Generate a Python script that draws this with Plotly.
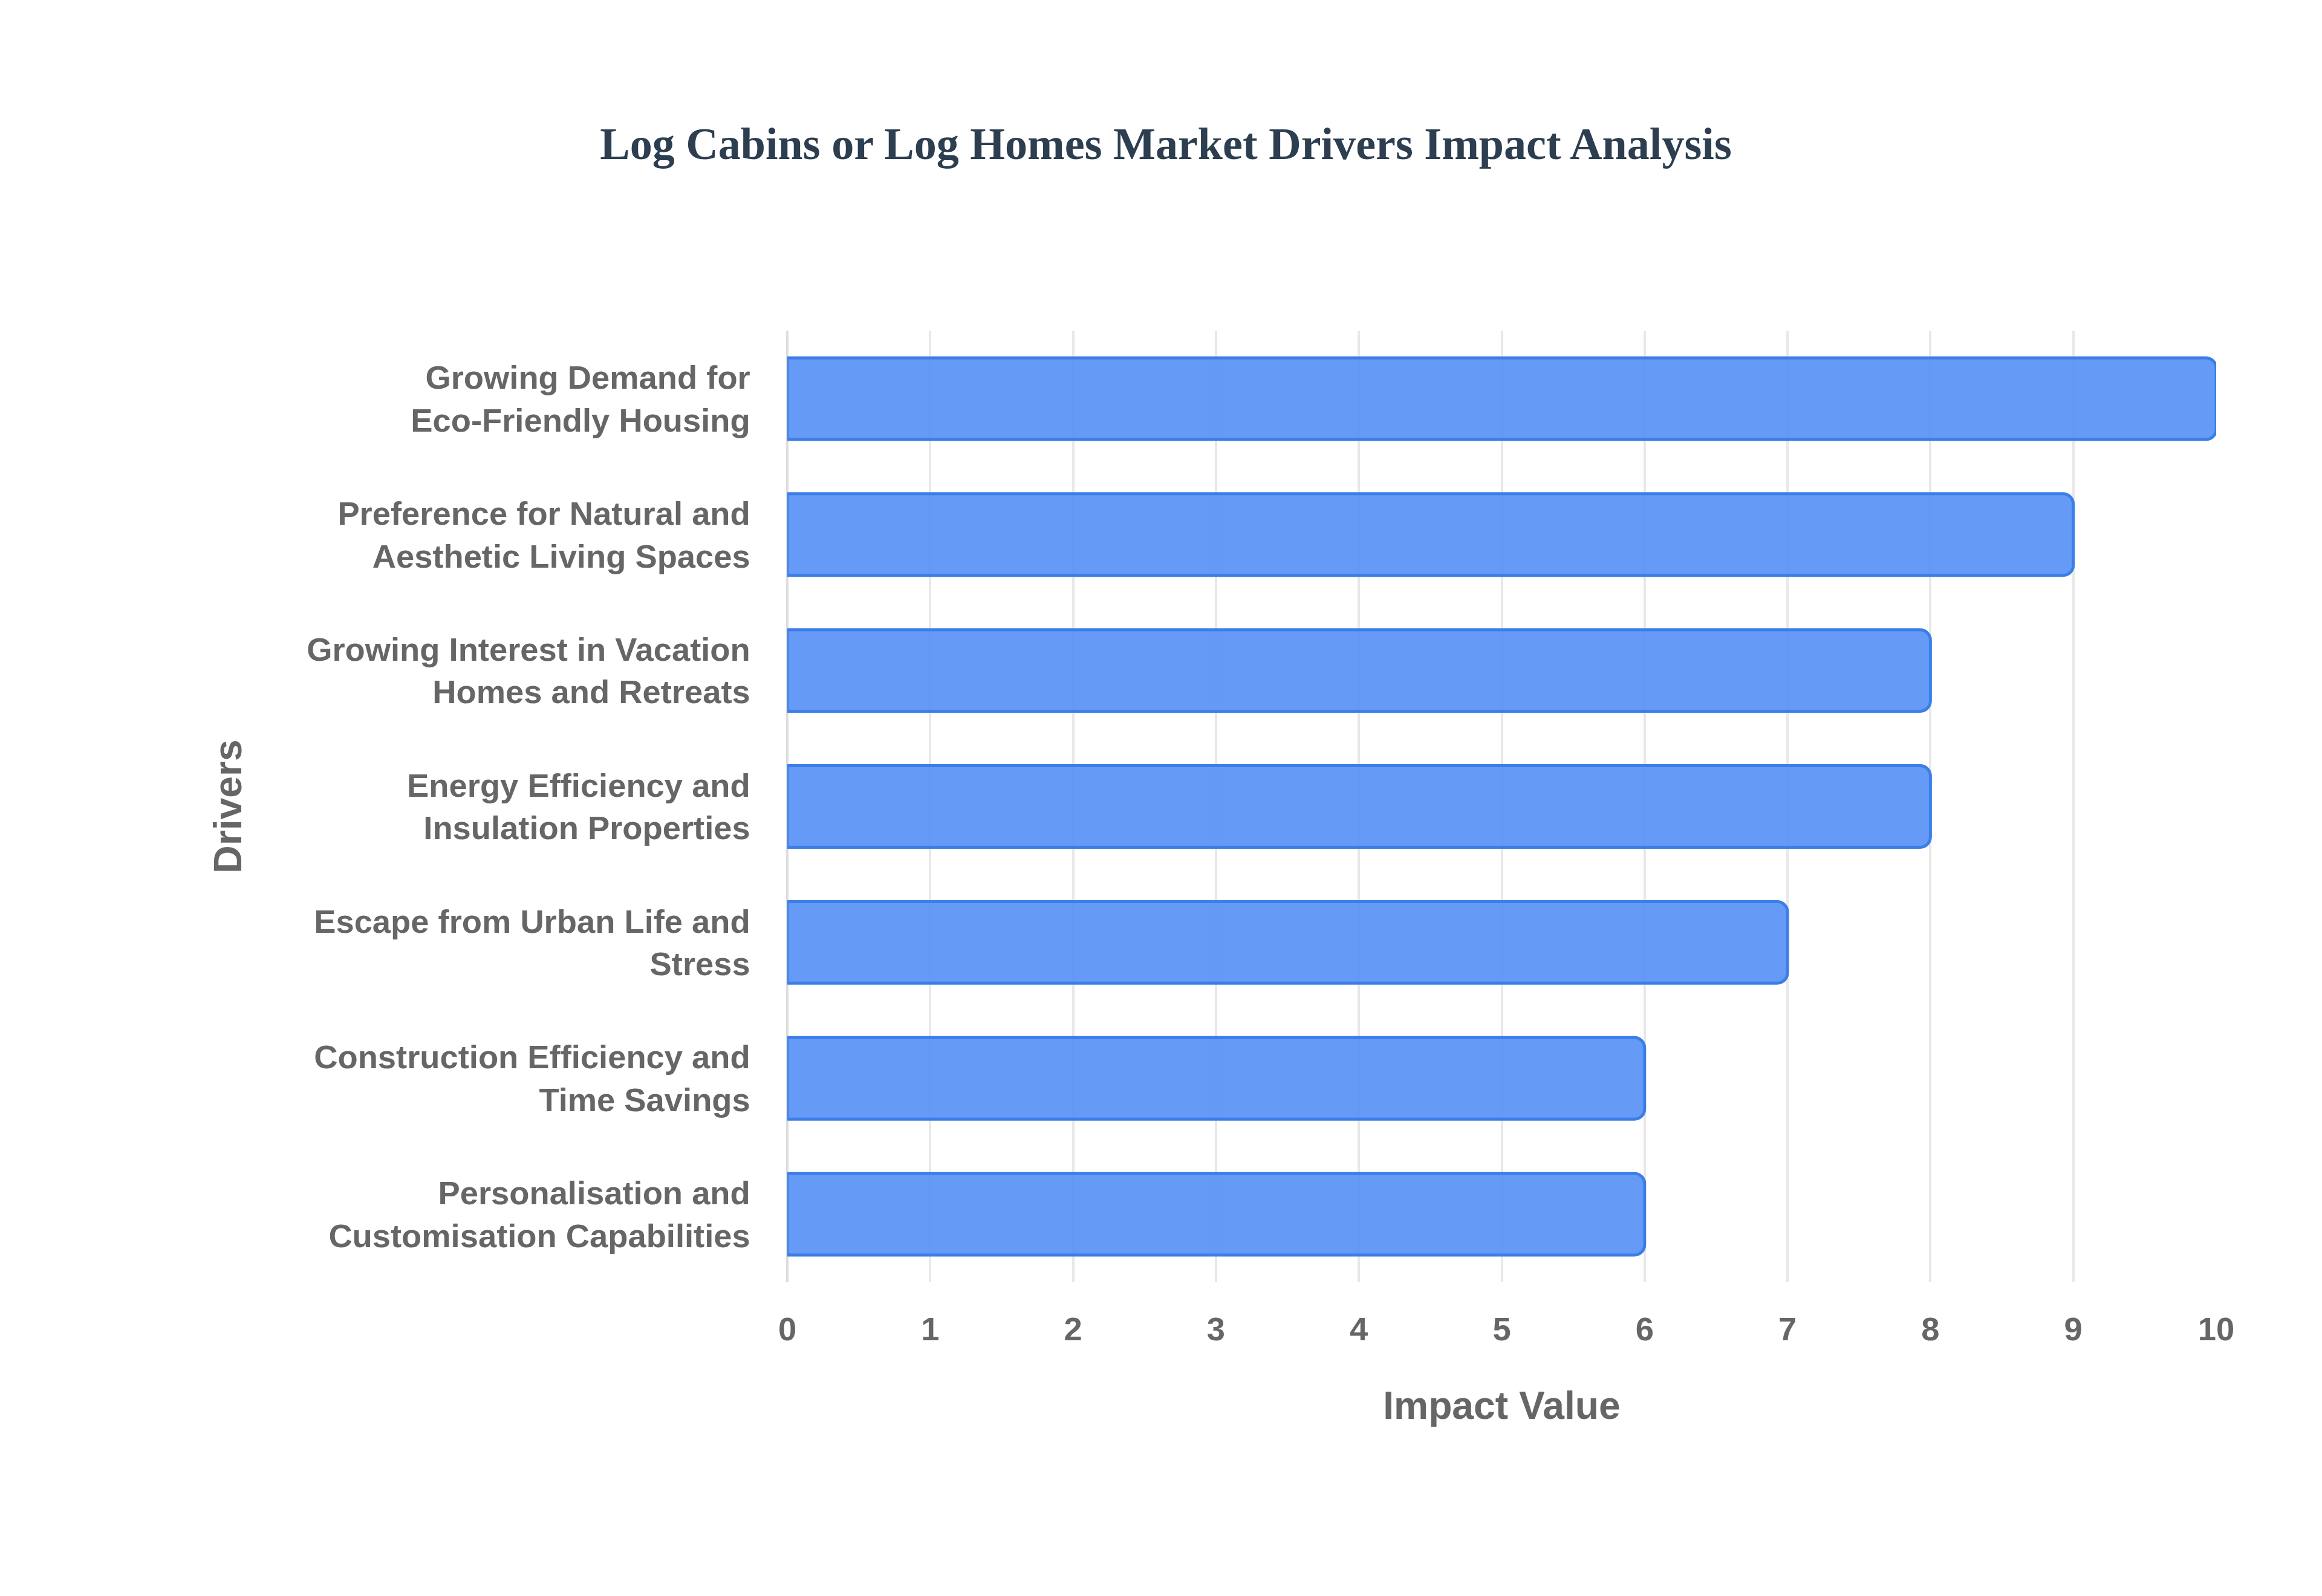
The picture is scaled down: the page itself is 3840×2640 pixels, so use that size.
import plotly.graph_objects as go

drivers = [
    "Growing Demand for<br>Eco-Friendly Housing",
    "Preference for Natural and<br>Aesthetic Living Spaces",
    "Growing Interest in Vacation<br>Homes and Retreats",
    "Energy Efficiency and<br>Insulation Properties",
    "Escape from Urban Life and<br>Stress",
    "Construction Efficiency and<br>Time Savings",
    "Personalisation and<br>Customisation Capabilities",
]
impact = [10, 9, 8, 8, 7, 6, 6]

S = 2.47
fig = go.Figure(go.Bar(
    x=impact, y=drivers, orientation="h", width=0.6,
    marker=dict(color="rgba(80,140,245,0.88)", line=dict(color="#3b7ee8", width=2 * S),
                cornerradius=int(7 * S)),
))
fig.update_layout(
    width=3840, height=2640,
    paper_bgcolor="white", plot_bgcolor="white",
    margin=dict(l=1294, r=183, t=539, b=527),
    title=dict(text="<b>Log Cabins or Log Homes Market Drivers Impact Analysis</b>",
               x=0.5, xanchor="center", y=1 - 93 / 1070, yanchor="middle",
               font=dict(family="Liberation Serif", size=30 * S, color="#2c3e50")),
    font=dict(family="Liberation Sans", color="#666666"),
    showlegend=False,
)
fig.update_xaxes(
    range=[0, 10], dtick=1, showgrid=True, gridcolor="#e8e8e8", gridwidth=1.5 * S,
    zeroline=True, zerolinecolor="#dddddd", zerolinewidth=1.5 * S,
    tickfont=dict(size=22 * S, family="Liberation Sans"), tickprefix="<b>", ticksuffix="</b>",
    ticks="outside", ticklen=12 * S, tickcolor="white",
    title=dict(text="<b>Impact Value</b>", font=dict(size=26 * S), standoff=30 * S),
)
fig.update_yaxes(
    autorange="reversed", showgrid=False,
    tickfont=dict(size=22 * S, family="Liberation Sans"), tickprefix="<b>", ticksuffix="</b>",
    ticks="outside", ticklen=20 * S, tickcolor="white",
    title=dict(text="<b>Drivers</b>", font=dict(size=26 * S), standoff=35 * S),
)
fig.write_html("out.html")
